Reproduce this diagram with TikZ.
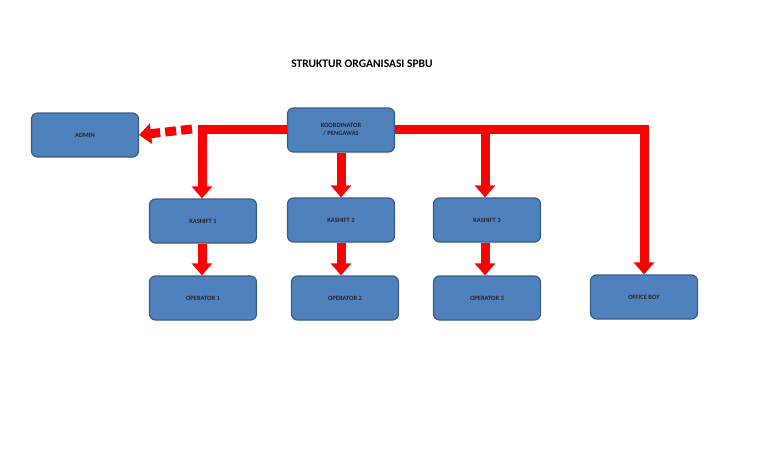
\documentclass[tikz,border=0pt]{standalone}
\usepackage{fontspec}
\setmainfont{Carlito}
\usetikzlibrary{arrows.meta}
\definecolor{boxfill}{HTML}{4F81BD}
\definecolor{boxline}{HTML}{385D8A}
\tikzset{
  orgbox/.style={draw=boxline,line width=1.2pt,fill=boxfill,rounded corners=6pt,minimum width=107pt,minimum height=44pt,align=center,font=\fontsize{6.5}{8}\selectfont\bfseries,text=black!85},
  redarrow/.style={draw=red,line width=9pt,-{Triangle[width=20pt,length=12pt]}},
  redline/.style={draw=red,line width=9pt}
}
\begin{document}
\begin{tikzpicture}[x=1pt,y=-1pt]
\useasboundingbox (0,0) rectangle (768,466);
\node[font=\fontsize{11.5}{13}\selectfont\bfseries] (title) at (362,64) {STRUKTUR ORGANISASI SPBU};
\node[orgbox] (admin) at (85,135) {ADMIN};
\node[orgbox] (koor) at (341,130) {KOORDINATOR\\/ PENGAWAS};
\node[orgbox] (k1) at (203,221) {KASHIFT 1};
\node[orgbox] (k2) at (341,220) {KASHIFT 2};
\node[orgbox] (k3) at (487,220) {KASHIFT 3};
\node[orgbox] (o1) at (203,298) {OPERATOR 1};
\node[orgbox] (o2) at (345,298) {OPERATOR 2};
\node[orgbox] (o3) at (487,298) {OPERATOR 3};
\node[orgbox] (ob) at (644,297) {OFFICE BOY};
\coordinate (jl) at (202,129);
\coordinate (jr) at (644,129);
\coordinate (j3) at (485,129);
\coordinate (dl) at (192,129);
\draw[redline] (koor.west |- jl) -- ([xshift=-4.5pt]jl);
\draw[redline] (koor.east |- jr) -- ([xshift=4.5pt]jr);
\draw[redarrow] ([yshift=-4.5pt]jl) -- (jl |- k1.north);
\draw[redarrow] ([yshift=-4.5pt]jr) -- (jr |- ob.north);
\draw[redarrow] (j3) -- (j3 |- k3.north);
\draw[redarrow] (koor.south) -- (k2.north);
\draw[redarrow] (k1.south -| jl) -- (o1.north -| jl);
\draw[redarrow] (k2.south) -- (k2.south |- o2.north);
\draw[redarrow] (k3.south -| j3) -- (o3.north -| j3);
\draw[draw=red,line width=9pt,dash pattern=on 11pt off 5pt,-{Triangle[width=20pt,length=12pt]}] (dl) -- (admin.east);
\end{tikzpicture}
\end{document}
